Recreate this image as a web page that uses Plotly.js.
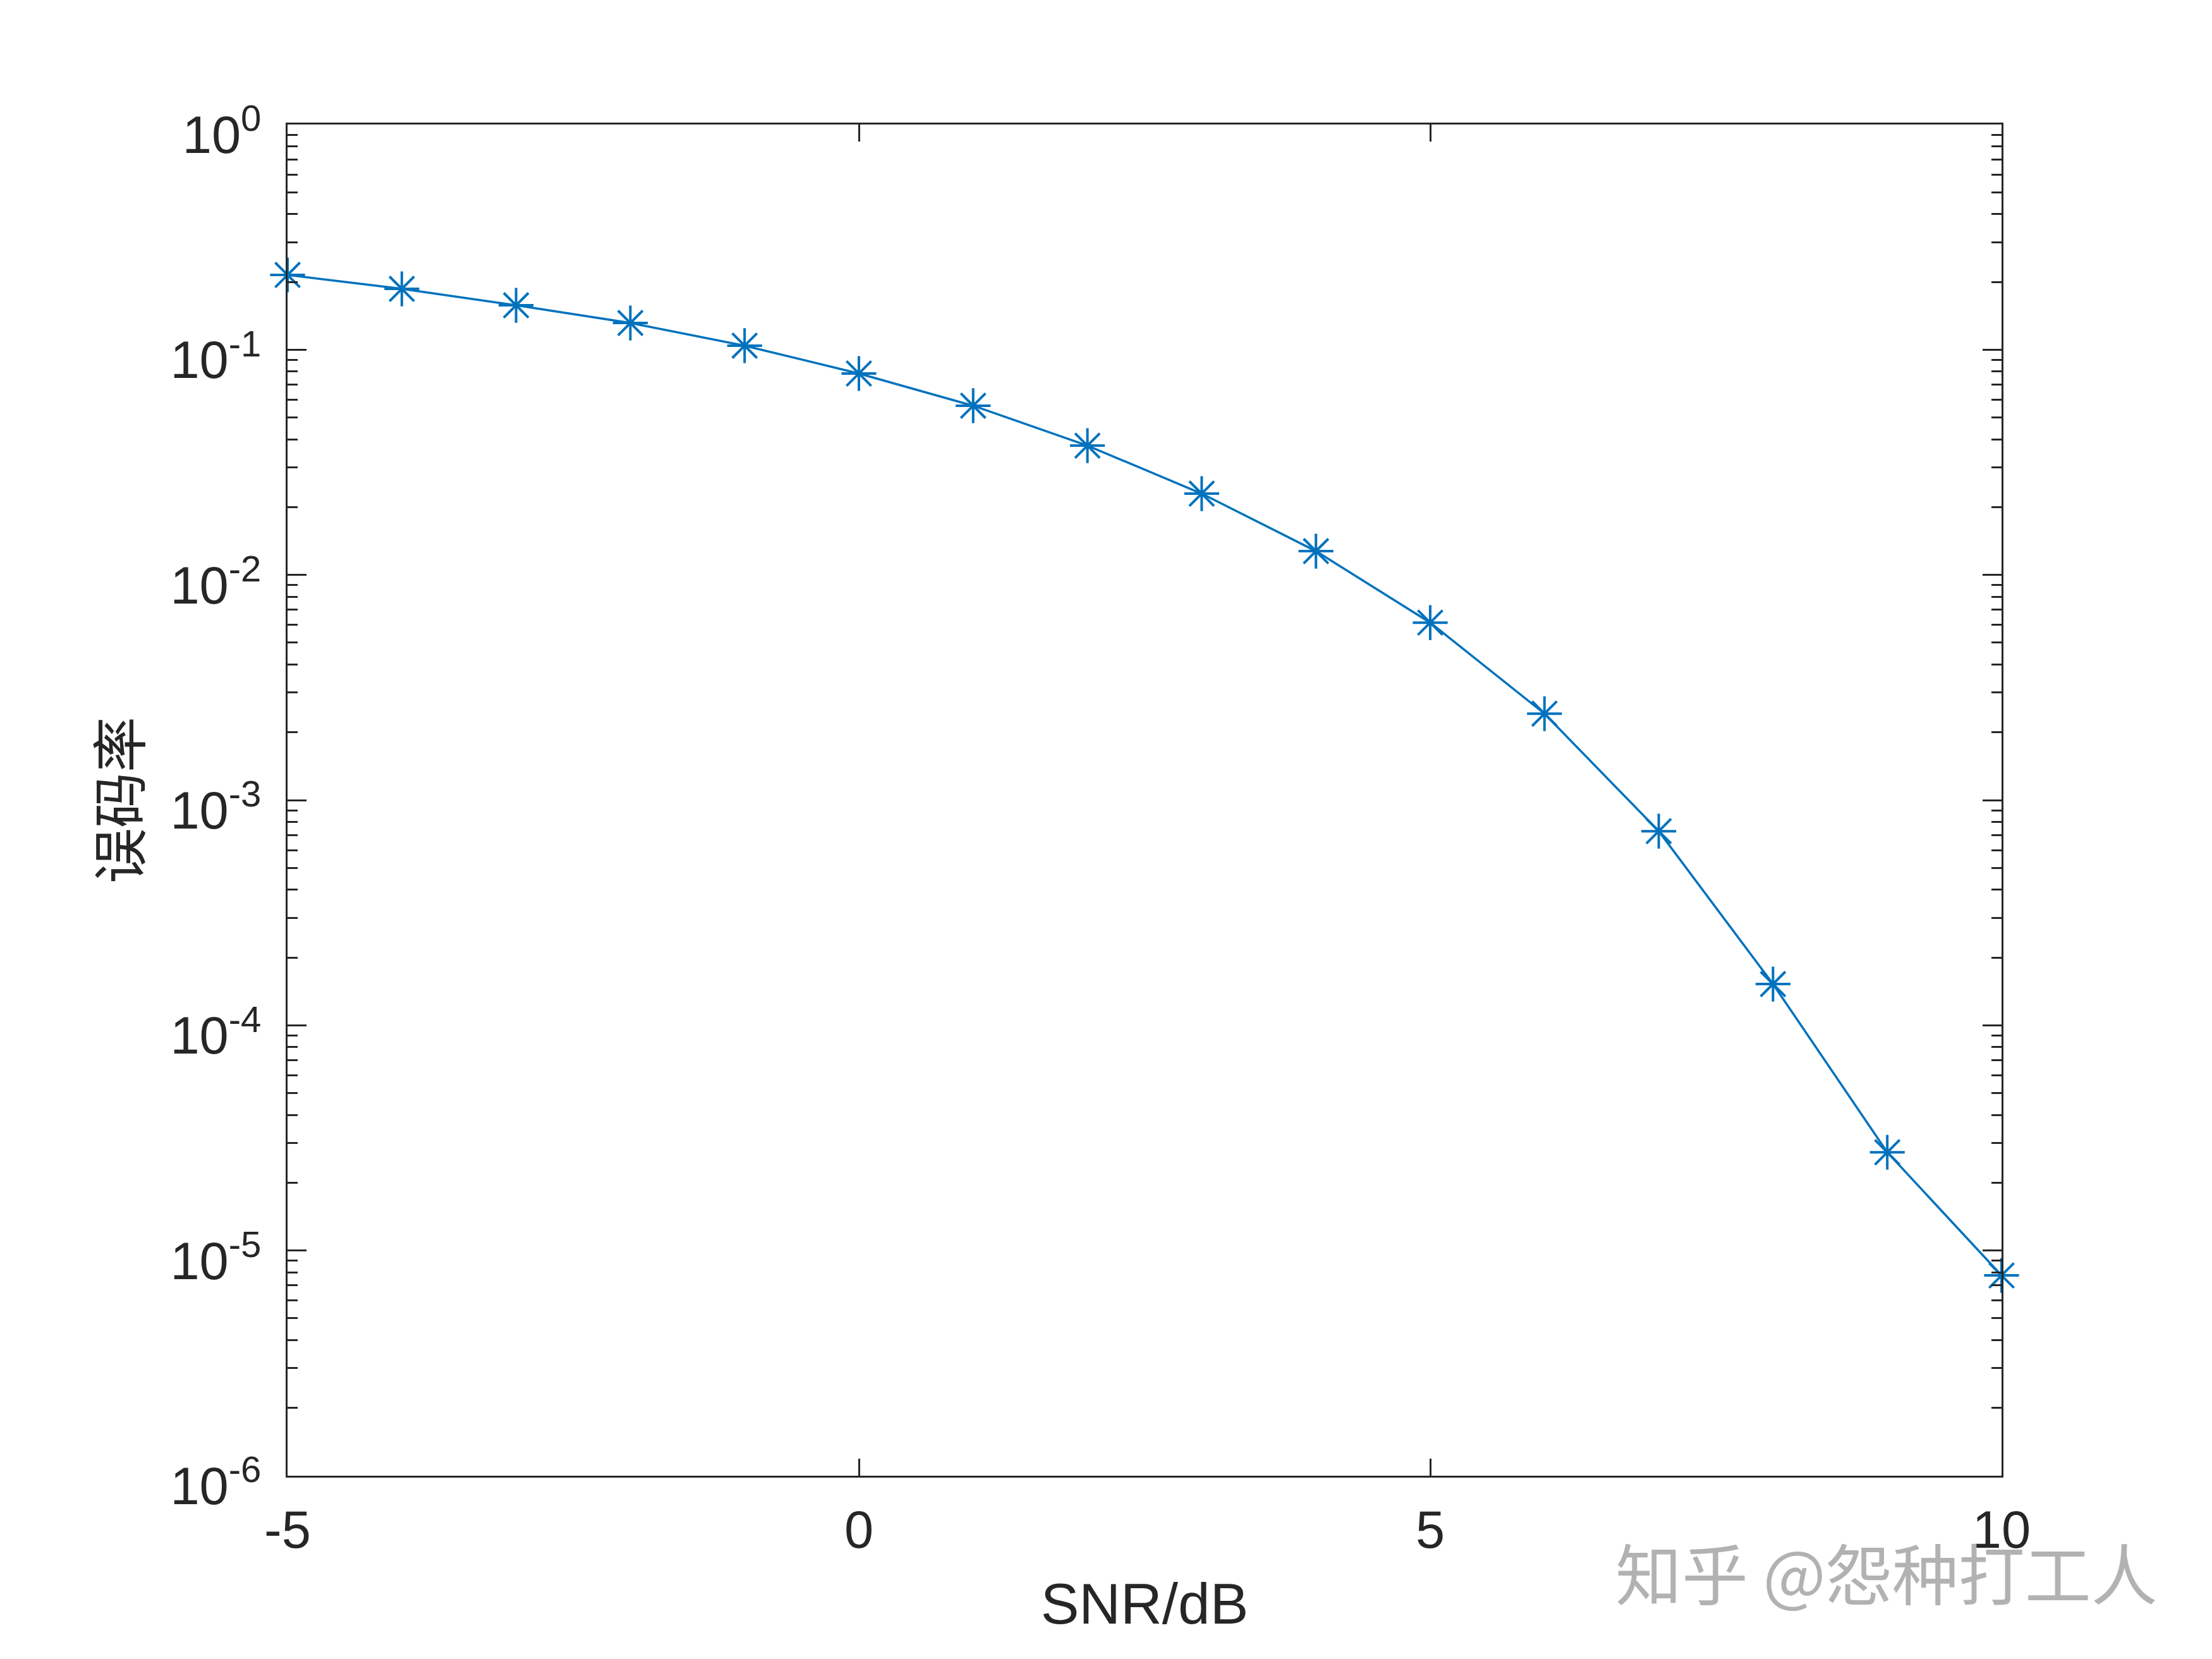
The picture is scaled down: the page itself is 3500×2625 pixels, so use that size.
<!DOCTYPE html>
<html>
<head>
<meta charset="utf-8">
<script src="https://cdn.plot.ly/plotly-3.0.1.min.js"></script>
<style>html,body{margin:0;padding:0;background:#fff;}#chart{width:3500px;height:2625px;}</style>
</head>
<body>
<div id="chart"></div>
<script>
// Data
var snrDb = [-5, -4, -3, -2, -1, 0, 1, 2, 3, 4, 5, 6, 7, 8, 9, 10];
var ber = [0.2148, 0.1863, 0.1575, 0.1314, 0.1042, 0.0784, 0.0564, 0.0375,
           0.02296, 0.01275, 0.00614, 0.00242, 0.000728, 0.0001525, 0.0000273, 0.00000775];
var xTickVals = [-5, 0, 5, 10];
var xTickText = ['-5', '0', '5', '10'];
var yTickVals = [1e-6, 1e-5, 1e-4, 1e-3, 1e-2, 1e-1, 1];
var yTickText = ['10<sup>-6</sup>', '10<sup>-5</sup>', '10<sup>-4</sup>', '10<sup>-3</sup>',
                 '10<sup>-2</sup>', '10<sup>-1</sup>', '10<sup>0</sup>'];
var xTitle = 'SNR/dB';
var yTitle = '误码率';
var watermark = '知乎 @怨种打工人';

// minor tick positions of the log axis (2..9 in each decade)
var yMinorVals = [];
for (var d = -6; d < 0; d++) {
  for (var m = 2; m <= 9; m++) { yMinorVals.push(m * Math.pow(10, d)); }
}

var axisColor = '#262626';
var blue = '#0072BD';

var trace = {
  x: snrDb,
  y: ber,
  type: 'scatter',
  mode: 'lines+markers',
  cliponaxis: false,
  line: {color: blue, width: 3.5},
  marker: {symbol: 'asterisk-open', size: 46, color: blue, line: {color: blue, width: 4}},
  hoverinfo: 'x+y'
};

var layout = {
  width: 3500,
  height: 2625,
  margin: {l: 455, r: 333, t: 197, b: 290, autoexpand: false},
  paper_bgcolor: '#ffffff',
  plot_bgcolor: '#ffffff',
  showlegend: false,
  font: {family: 'Liberation Sans, Arial, sans-serif', color: axisColor, size: 83},
  xaxis: {
    range: [-5, 10],
    tickmode: 'array',
    tickvals: xTickVals,
    ticktext: xTickText,
    ticks: 'inside',
    ticklen: 27,
    tickwidth: 3,
    tickcolor: axisColor,
    showline: true,
    linewidth: 3,
    linecolor: axisColor,
    mirror: 'ticks',
    showgrid: false,
    zeroline: false,
    automargin: false,
    ticklabelstandoff: 11,
    tickfont: {family: 'Liberation Sans, Arial, sans-serif', size: 83, color: axisColor},
    title: {text: xTitle, font: {family: 'Liberation Sans, Arial, sans-serif', size: 91, color: axisColor}, standoff: 40}
  },
  yaxis: {
    type: 'log',
    range: [-6, 0],
    tickmode: 'array',
    tickvals: yTickVals,
    ticktext: yTickText,
    ticks: 'inside',
    ticklen: 30,
    tickwidth: 3,
    tickcolor: axisColor,
    minor: {
      tickmode: 'array',
      tickvals: yMinorVals,
      ticks: 'inside',
      ticklen: 16,
      tickwidth: 3,
      tickcolor: axisColor,
      showgrid: false
    },
    showline: true,
    linewidth: 3,
    linecolor: axisColor,
    mirror: 'ticks',
    showgrid: false,
    zeroline: false,
    automargin: false,
    ticklabelstandoff: 22,
    ticklabelshift: 16,
    tickfont: {family: 'Liberation Sans, Arial, sans-serif', size: 83, color: axisColor},
    title: {text: yTitle, font: {family: 'Noto Sans CJK SC, sans-serif', size: 88, color: axisColor}, standoff: 18}
  },
  annotations: [{
    text: watermark,
    xref: 'paper', yref: 'paper',
    x: 0.933, y: -0.0702,
    xanchor: 'center', yanchor: 'middle',
    showarrow: false,
    font: {family: 'Noto Sans CJK SC, sans-serif', size: 105, color: 'rgba(165,165,165,0.85)'}
  }]
};

Plotly.newPlot('chart', [trace], layout, {displayModeBar: false, staticPlot: true});
</script>
</body>
</html>
